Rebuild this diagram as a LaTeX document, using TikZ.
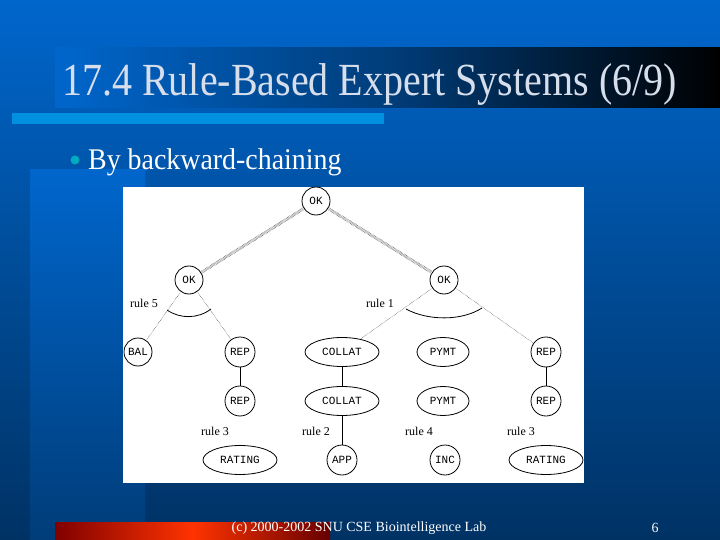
\documentclass[tikz,border=0pt]{standalone}
\usepackage{fontspec}
\setmainfont{Liberation Serif}
\setmonofont{Liberation Mono}
\usetikzlibrary{shapes.geometric,shadings}
\definecolor{bgtop}{RGB}{0,102,204}
\definecolor{bgbot}{RGB}{0,50,100}
\definecolor{lbar}{RGB}{0,144,224}
\definecolor{ttl}{RGB}{215,222,235}
\tikzset{
  cn/.style={circle,draw,thick,minimum size=28pt,inner sep=0pt,font=\ttfamily\fontsize{11}{11}\selectfont},
  en/.style={ellipse,draw,thick,minimum height=29pt,inner sep=0pt,font=\ttfamily\fontsize{11}{11}\selectfont},
  rl/.style={font=\fontsize{12}{12}\selectfont},
  dl/.style={densely dotted,thin},
  dd/.style={double,double distance=2pt,densely dotted,thin}
}
\begin{document}
\begin{tikzpicture}[x=1pt,y=-1pt]
\useasboundingbox (0,0) rectangle (720,540);
\shade[top color=bgtop,bottom color=bgbot] (0,0) rectangle (720,540);
\shade[top color=bgtop,bottom color=bgbot!80!bgtop] (30,170) rectangle (145,540);
\shade[left color=bgtop,right color=black,middle color=bgtop!60!black] (55,48) rectangle (720,108);
\fill[lbar] (12,113) rectangle (384,124);
\node[anchor=base west,text=ttl,font=\fontsize{46}{46}\selectfont,inner sep=0,xscale=0.87] (title) at (62,96) {17.4 Rule-Based Expert Systems (6/9)};
\fill[cyan!70!green] (75,160) circle (4.5);
\node[anchor=base west,text=white,font=\fontsize{30}{30}\selectfont,inner sep=0,xscale=0.93] (bul) at (88,170) {By backward-chaining};
\fill[white] (123,187) rectangle (584,483);
\node[cn] (ok) at (316,201) {OK};
\node[cn] (okl) at (189,280) {OK};
\node[cn] (okr) at (444,280) {OK};
\node[cn] (bal) at (138,352) {BAL};
\node[cn,minimum size=30pt] (rep1) at (240,352) {REP};
\node[en,minimum width=74pt] (col1) at (342,352) {COLLAT};
\node[en,minimum width=52pt] (py1) at (443,352) {PYMT};
\node[cn,minimum size=30pt] (rep3) at (546,352) {REP};
\node[cn,minimum size=30pt] (rep2) at (240,401) {REP};
\node[en,minimum width=74pt] (col2) at (342,401) {COLLAT};
\node[en,minimum width=52pt] (py2) at (443,401) {PYMT};
\node[cn,minimum size=30pt] (rep4) at (546,401) {REP};
\node[en,minimum width=74pt] (rat1) at (240,460) {RATING};
\node[cn,minimum size=30pt] (app) at (342,460) {APP};
\node[cn,minimum size=30pt] (inc) at (445,460) {INC};
\node[en,minimum width=74pt] (rat2) at (546,460) {RATING};
\draw[dd] (ok) -- (okl);
\draw[dd] (ok) -- (okr);
\draw[dl] (okl) -- (bal);
\draw[dl] (okl) -- (rep1);
\draw[dl] (okr) -- (col1);
\draw[dl] (okr) -- (rep3);
\draw[thick] (rep1) -- (rep2);
\draw[thick] (col1) -- (col2);
\draw[thick] (col2) -- (app);
\draw[thick] (rep3) -- (rep4);
\draw[thick] (167,310) .. controls (180,319) and (198,319) .. (211,309);
\draw[thick] (406,309) .. controls (428,321) and (462,321) .. (482,308);
\node[rl] (r5) at (144,303) {rule 5};
\node[rl] (r1) at (380,303) {rule 1};
\node[rl] (r3a) at (215,431) {rule 3};
\node[rl] (r2) at (316,431) {rule 2};
\node[rl] (r4) at (419,431) {rule 4};
\node[rl] (r3b) at (521,431) {rule 3};
\shade[left color=red!50!black,right color=red!40!black,middle color=orange!40!red] (55,522) rectangle (330,540);
\node[text=white,font=\fontsize{14}{14}\selectfont] (foot) at (359,528) {(c) 2000-2002 SNU CSE Biointelligence Lab};
\node[text=white,font=\fontsize{14}{14}\selectfont] (pg) at (655,528) {6};
\end{tikzpicture}
\end{document}
